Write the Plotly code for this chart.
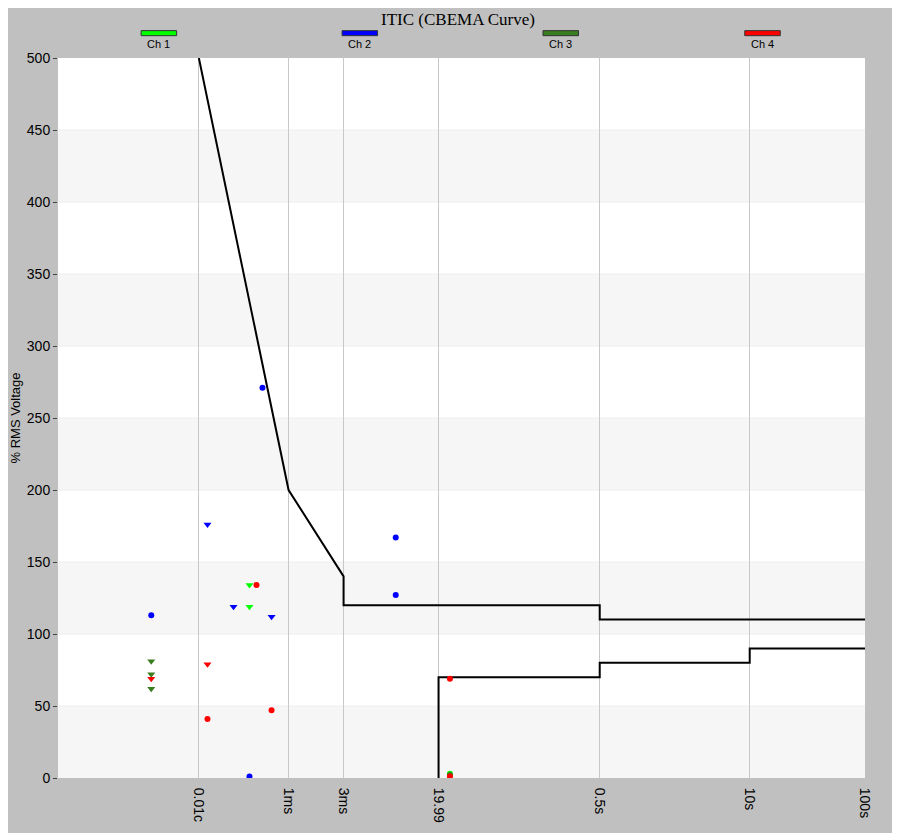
import plotly.graph_objects as go

tick_vals = [1/6000, 1e-3, 3e-3, 0.01999, 0.5, 10, 100]
tick_text = ["0.01c", "1ms", "3ms", "19.99", "0.5s", "10s", "100s"]

upper_x = [1/6000, 1e-3, 3e-3, 3e-3, 0.5, 0.5, 100]
upper_y = [500, 200, 140, 120, 120, 110, 110]
lower_x = [0.02, 0.02, 0.5, 0.5, 10, 10, 100]
lower_y = [0, 70, 70, 80, 80, 90, 90]

ch1_tri_x = [4.58e-4, 4.58e-4]; ch1_tri_y = [134, 119]
ch1_dot_x = [0.0251]; ch1_dot_y = [3]
ch2_dot_x = [6.44e-5, 5.94e-4, 8.5e-3, 8.5e-3, 4.58e-4]; ch2_dot_y = [113, 271, 167, 127, 1]
ch2_tri_x = [1.98e-4, 3.33e-4, 7.12e-4]; ch2_tri_y = [176, 119, 112]
ch3_tri_x = [6.44e-5, 6.44e-5, 6.44e-5]; ch3_tri_y = [81, 72, 62]
ch3_dot_x = [0.0251]; ch3_dot_y = [2]
ch4_tri_x = [6.44e-5, 1.98e-4]; ch4_tri_y = [69, 79]
ch4_dot_x = [5.27e-4, 1.98e-4, 7.12e-4, 0.0251, 0.0251]; ch4_dot_y = [134, 41, 47, 69, 1]

channels = ["Ch 1", "Ch 2", "Ch 3", "Ch 4"]
colors = ["#00ff00", "#0000ff", "#3a7d1e", "#ff0000"]

fig = go.Figure()
fig.add_trace(go.Scatter(x=upper_x, y=upper_y, mode="lines", line=dict(color="black", width=2)))
fig.add_trace(go.Scatter(x=lower_x, y=lower_y, mode="lines", line=dict(color="black", width=2)))

def pts(x, y, c, sym):
    fig.add_trace(go.Scatter(x=x, y=y, mode="markers",
                             marker=dict(color=c, size=7 if sym == "triangle-down" else 6, symbol=sym)))

pts(ch1_tri_x, ch1_tri_y, colors[0], "triangle-down"); pts(ch1_dot_x, ch1_dot_y, colors[0], "circle")
pts(ch2_tri_x, ch2_tri_y, colors[1], "triangle-down"); pts(ch2_dot_x, ch2_dot_y, colors[1], "circle")
pts(ch3_tri_x, ch3_tri_y, colors[2], "triangle-down"); pts(ch3_dot_x, ch3_dot_y, colors[2], "circle")
pts(ch4_tri_x, ch4_tri_y, colors[3], "triangle-down"); pts(ch4_dot_x, ch4_dot_y, colors[3], "circle")

shapes = []
for y0 in [0, 100, 200, 300, 400]:
    shapes.append(dict(type="rect", xref="paper", yref="y", x0=0, x1=1, y0=y0, y1=y0 + 50,
                       fillcolor="#f6f6f6", line=dict(width=0), layer="below"))
for y0 in range(50, 500, 50):
    shapes.append(dict(type="line", xref="paper", yref="y", x0=0, x1=1, y0=y0, y1=y0,
                       line=dict(color="#eeeeee", width=1), layer="below"))
annotations = []
leg_x = [0.125, 0.374, 0.623, 0.873]
for name, c, lx in zip(channels, colors, leg_x):
    shapes.append(dict(type="rect", xref="paper", yref="paper", x0=lx - 0.022, x1=lx + 0.022,
                       y0=1.031, y1=1.038, fillcolor=c, line=dict(color="#333", width=1)))
    annotations.append(dict(text=name, xref="paper", yref="paper", x=lx, y=1.03, yanchor="top",
                            xanchor="center", showarrow=False,
                            font=dict(size=11, color="black", family="Arial")))

fig.update_layout(
    width=900, height=833, showlegend=False,
    paper_bgcolor="#c0c0c0", plot_bgcolor="white",
    margin=dict(l=50, r=43, t=50, b=63, autoexpand=False),
    title=dict(text="ITIC (CBEMA Curve)", x=0.5, y=0.994, yanchor="top",
               font=dict(family="Liberation Serif", size=17, color="black")),
    shapes=shapes, annotations=annotations,
    font=dict(family="Arial", size=14, color="black"),
    xaxis=dict(type="log", range=[-5, 2], tickvals=tick_vals, ticktext=tick_text,
               tickangle=90, showgrid=True, gridcolor="#c8c8c8", zeroline=False,
               showline=False, ticks="outside", ticklen=6, tickcolor="rgba(0,0,0,0)",
               automargin=False),
    yaxis=dict(range=[0, 500], dtick=50, showgrid=False, zeroline=False, automargin=False,
               ticks="outside", ticklen=4, title=dict(text="% RMS Voltage", font=dict(size=13), standoff=8)),
)
fig.write_html("out.html")
